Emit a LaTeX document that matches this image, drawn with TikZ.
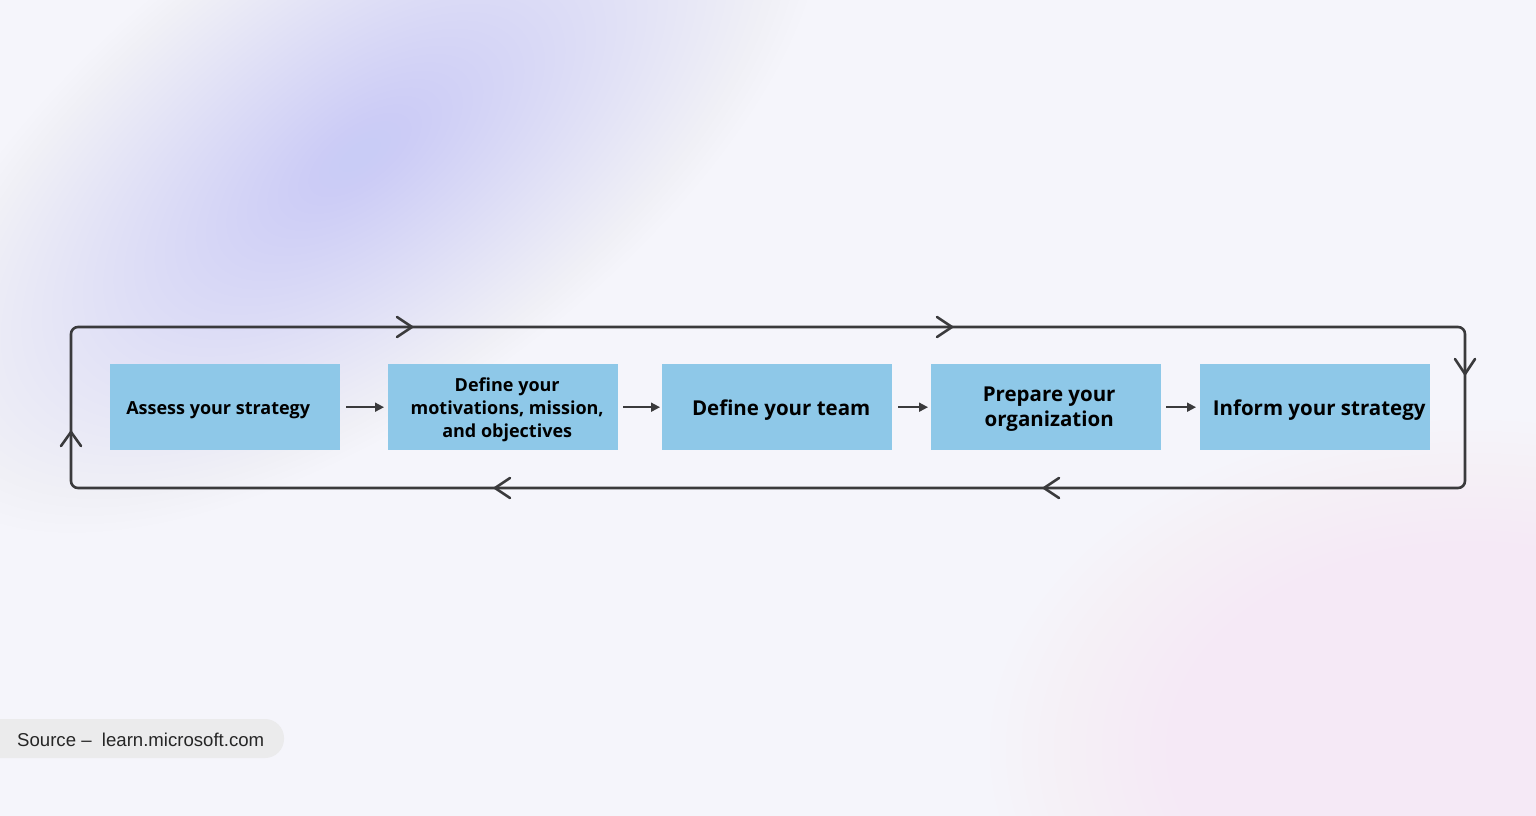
\documentclass[tikz,border=0pt]{standalone}
\usepackage{fontspec}
\setmainfont{Open Sans}
\newfontfamily\srcfont{Liberation Sans}
\usetikzlibrary{arrows.meta}
\definecolor{bgbase}{HTML}{F5F5FB}
\definecolor{blob}{HTML}{C9CCF6}
\definecolor{pinkish}{HTML}{FBE9F6}
\definecolor{whitish}{HTML}{FFFFFF}
\definecolor{boxblue}{HTML}{8EC8E8}
\definecolor{loopgray}{HTML}{3A3A3C}
\definecolor{pillgray}{HTML}{EBEBEC}
\begin{document}
\begin{tikzpicture}[x=1pt,y=-1pt,
  stepbox/.style={fill=boxblue, minimum width=230pt, minimum height=86pt, inner sep=0pt},
  steplabel/.style={inner sep=0pt, align=center, font=\bfseries\fontsize{18}{23}\selectfont, text=black},
  biglabel/.style={steplabel, font=\bfseries\fontsize{20.5}{25}\selectfont},
  flow/.style={draw=loopgray, line width=1.8pt, -{Triangle[length=9pt,width=9pt]}},
  loopline/.style={draw=loopgray, line width=2.6pt, rounded corners=7pt},
  chev/.style={draw=loopgray, line width=2.6pt, line cap=round, line join=round}
]
\useasboundingbox (0,0) rectangle (1536,816);
% background
\fill[bgbase] (0,0) rectangle (1536,816);
\begin{scope}
\clip (0,0) rectangle (1536,816);
\foreach \i in {1,...,30}{
  \fill[whitish, opacity=0.03] (250,720) ellipse ({20*\i} and {8.667*\i});
}
\foreach \i in {1,...,30}{
  \fill[whitish, opacity=0.02] (800,560) ellipse ({20*\i} and {8*\i});
}
\foreach \i in {1,...,30}{
  \fill[pinkish, opacity=0.008] (1470,750) ellipse ({16*\i} and {11*\i});
}
\foreach \i in {1,...,45}{
  \fill[blob, opacity=0.02, rotate around={36:(360,155)}] (360,155) ellipse ({12*\i} and {5.6*\i});
}
\end{scope}

% loop
\coordinate (tl) at (71,327);
\coordinate (br) at (1465,488);
\draw[loopline] (tl) rectangle (br);
% chevrons on loop
\draw[chev] (397,317) -- (412,327) -- (397,337);
\draw[chev] (937,317) -- (952,327) -- (937,337);
\draw[chev] (1455,359) -- (1465,374) -- (1475,359);
\draw[chev] (510,478) -- (495,488) -- (510,498);
\draw[chev] (1059,478) -- (1044,488) -- (1059,498);
\draw[chev] (61,446) -- (71,432) -- (81,446);

% boxes
\node[stepbox, anchor=north west, label={[steplabel, xshift=-7pt, yshift=-3pt]center:Assess your strategy}] (b1) at (110,364) {};
\node[stepbox, anchor=north west, label={[steplabel, xshift=4pt, yshift=-3pt]center:Define your\\motivations, mission,\\and objectives}] (b2) at (388,364) {};
\node[stepbox, anchor=north west, label={[biglabel, xshift=4pt, yshift=-3pt]center:Define your team}] (b3) at (662,364) {};
\node[stepbox, anchor=north west, label={[biglabel, xshift=3pt, yshift=-2pt]center:Prepare your\\organization}] (b4) at (931,364) {};
\node[stepbox, anchor=north west, label={[biglabel, xshift=4pt, yshift=-3pt]center:Inform your strategy}] (b5) at (1200,364) {};

\draw[flow] ([xshift=6pt]b1.east) -- ([xshift=-4pt]b2.west);
\draw[flow] ([xshift=5pt]b2.east) -- ([xshift=-2pt]b3.west);
\draw[flow] ([xshift=6pt]b3.east) -- ([xshift=-3pt]b4.west);
\draw[flow] ([xshift=5pt]b4.east) -- ([xshift=-4pt]b5.west);

% source pill
\fill[pillgray, rounded corners=19pt] (-30,719) rectangle (284,758);
\node[anchor=west, inner sep=0pt, font=\srcfont\fontsize{18.6}{21}\selectfont, text=black!85] (src) at (17,739.5) {Source –\ \ learn.microsoft.com};
\end{tikzpicture}
\end{document}
